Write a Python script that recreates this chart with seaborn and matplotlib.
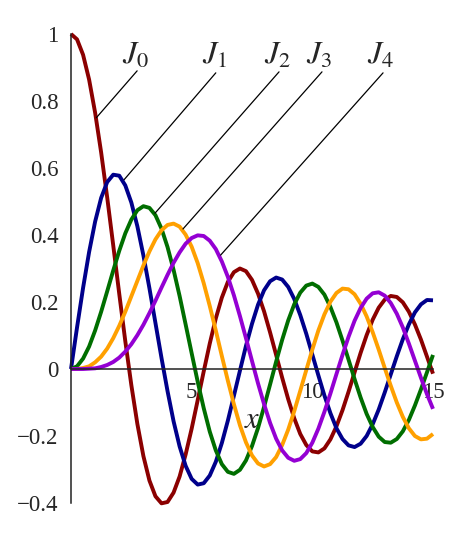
import pandas as pd
import numpy as np
import seaborn as sns
import matplotlib.pyplot as plt

# Bessel curves J0..J4, values every 0.25 in x
x_vals = [0, 0.25, 0.5, 0.75, 1, 1.25, 1.5, 1.75, 2, 2.25, 2.5, 2.75, 3, 3.25, 3.5, 3.75,
          4, 4.25, 4.5, 4.75, 5, 5.25, 5.5, 5.75, 6, 6.25, 6.5, 6.75, 7, 7.25, 7.5, 7.75,
          8, 8.25, 8.5, 8.75, 9, 9.25, 9.5, 9.75, 10, 10.25, 10.5, 10.75, 11, 11.25, 11.5, 11.75,
          12, 12.25, 12.5, 12.75, 13, 13.25, 13.5, 13.75, 14, 14.25, 14.5, 14.75, 15]

j0 = [1.000, 0.984, 0.938, 0.864, 0.765, 0.646, 0.512, 0.369, 0.224, 0.083, -0.048, -0.164,
      -0.260, -0.333, -0.380, -0.401, -0.397, -0.369, -0.321, -0.255, -0.178, -0.093, -0.007,
      0.076, 0.151, 0.213, 0.260, 0.289, 0.300, 0.292, 0.266, 0.225, 0.172, 0.109, 0.042,
      -0.026, -0.090, -0.147, -0.194, -0.227, -0.246, -0.249, -0.237, -0.210, -0.171, -0.123,
      -0.068, -0.010, 0.048, 0.101, 0.147, 0.183, 0.207, 0.218, 0.215, 0.199, 0.171, 0.133,
      0.088, 0.037, -0.014]
j1 = [0.000, 0.124, 0.242, 0.349, 0.440, 0.511, 0.558, 0.580, 0.577, 0.548, 0.497, 0.426,
      0.339, 0.241, 0.137, 0.033, -0.066, -0.156, -0.231, -0.289, -0.328, -0.345, -0.341,
      -0.318, -0.277, -0.221, -0.154, -0.080, -0.005, 0.069, 0.135, 0.192, 0.235, 0.262,
      0.273, 0.267, 0.245, 0.209, 0.161, 0.105, 0.043, -0.019, -0.079, -0.132, -0.177, -0.209,
      -0.228, -0.233, -0.223, -0.200, -0.165, -0.121, -0.070, -0.016, 0.038, 0.089, 0.133,
      0.169, 0.193, 0.206, 0.205]
j2 = [0.000, 0.008, 0.031, 0.067, 0.115, 0.171, 0.232, 0.294, 0.353, 0.405, 0.446, 0.474,
      0.486, 0.481, 0.459, 0.419, 0.364, 0.296, 0.218, 0.133, 0.047, -0.038, -0.117, -0.187,
      -0.243, -0.284, -0.307, -0.313, -0.301, -0.273, -0.230, -0.176, -0.113, -0.046, 0.022,
      0.087, 0.145, 0.193, 0.228, 0.249, 0.255, 0.245, 0.222, 0.185, 0.139, 0.085, 0.028,
      -0.030, -0.085, -0.134, -0.173, -0.202, -0.218, -0.220, -0.209, -0.186, -0.152, -0.109,
      -0.061, -0.010, 0.042]
j3 = [0.000, 0.000, 0.003, 0.008, 0.020, 0.037, 0.061, 0.092, 0.129, 0.171, 0.217, 0.263,
      0.309, 0.351, 0.387, 0.414, 0.430, 0.434, 0.425, 0.401, 0.365, 0.316, 0.256, 0.188,
      0.115, 0.039, -0.035, -0.105, -0.168, -0.219, -0.258, -0.282, -0.291, -0.284, -0.263,
      -0.227, -0.181, -0.126, -0.065, -0.003, 0.058, 0.115, 0.163, 0.201, 0.227, 0.240, 0.238,
      0.223, 0.195, 0.157, 0.110, 0.058, 0.003, -0.050, -0.100, -0.143, -0.177, -0.200, -0.210,
      -0.208, -0.194]
j4 = [0.000, 0.000, 0.000, 0.001, 0.002, 0.006, 0.012, 0.021, 0.034, 0.052, 0.074, 0.101,
      0.132, 0.167, 0.204, 0.243, 0.281, 0.317, 0.348, 0.374, 0.391, 0.399, 0.397, 0.383,
      0.358, 0.321, 0.275, 0.220, 0.158, 0.092, 0.024, -0.043, -0.105, -0.161, -0.208, -0.243,
      -0.265, -0.274, -0.269, -0.251, -0.220, -0.178, -0.128, -0.073, -0.015, 0.042, 0.096,
      0.144, 0.182, 0.210, 0.226, 0.229, 0.219, 0.197, 0.165, 0.124, 0.076, 0.025, -0.026,
      -0.075, -0.119]

names = ["J0", "J1", "J2", "J3", "J4"]
colors = ["#8B0000", "#00008B", "#006E00", "#FFA000", "#9400D3"]

# label text + leader lines (start near label, end on the curve)
label_tex = ["$J_0$", "$J_1$", "$J_2$", "$J_3$", "$J_4$"]
label_x = [2.1, 5.42, 8.0, 9.72, 12.27]
lead_start = [(2.74, 0.890), (6.0, 0.884), (8.62, 0.887), (10.4, 0.887), (12.93, 0.884)]
lead_end = [(1.05, 0.75), (2.2, 0.565), (3.48, 0.465), (4.64, 0.418), (6.2, 0.34)]

df = pd.concat([pd.DataFrame({"x": x_vals, "y": ys, "curve": n})
                for n, ys in zip(names, [j0, j1, j2, j3, j4])])

sns.set_style("white")
plt.rcParams["font.family"] = ["Liberation Serif", "DejaVu Serif"]
plt.rcParams["mathtext.fontset"] = "stix"

fig = plt.figure(figsize=(4.74, 5.46), dpi=100)
ax = fig.add_axes([71/474, 43/546, 362/474, 469/546])

sns.lineplot(data=df, x="x", y="y", hue="curve", palette=colors,
             linewidth=2.8, legend=False, ax=ax)
for ln in ax.get_lines():
    ln.set_clip_on(False)
    ln.set_solid_capstyle("butt")
    ln.set_solid_joinstyle("round")

# leader lines and labels
for t, lx, s, e in zip(label_tex, label_x, lead_start, lead_end):
    ax.plot([s[0], e[0]], [s[1], e[1]], color="black", lw=0.9, clip_on=False)
    ax.text(lx, 0.912, t, fontsize=23, ha="left", va="baseline")

ax.text(7.5, -0.155, "$x$", fontsize=22, ha="center", va="center")

ax.set_xlim(0, 15)
ax.set_ylim(-0.4, 1.0)
ax.spines["left"].set_position(("data", 0))
ax.spines["bottom"].set_position(("data", 0))
ax.spines["top"].set_visible(False)
ax.spines["right"].set_visible(False)
for sp in ["left", "bottom"]:
    ax.spines[sp].set_color("#222222")
    ax.spines[sp].set_linewidth(1.1)

yt = [-0.4, -0.2, 0, 0.2, 0.4, 0.6, 0.8, 1.0]
ax.set_yticks(yt)
ax.set_yticklabels(["\u22120.4", "\u22120.2", "0", "0.2", "0.4", "0.6", "0.8", "1"])
ax.set_yticks(np.arange(-0.3, 1.0, 0.2), minor=True)
ax.set_xticks([5, 10, 15])
ax.set_xticklabels(["5", "10", "15"])
ax.set_xticks(range(1, 15), minor=True)
ax.tick_params(axis="y", which="major", direction="out", length=4, width=0.8,
               color="#555555", labelsize=16.5, pad=5)
ax.tick_params(axis="y", which="minor", direction="out", length=2.5, width=0.6, color="#888888")
ax.tick_params(axis="x", which="major", direction="inout", length=4, width=0.8,
               color="#555555", labelsize=16.5, pad=7)
ax.tick_params(axis="x", which="minor", direction="inout", length=3, width=0.6, color="#999999")
ax.set_xlabel("")
ax.set_ylabel("")

fig.savefig("out.png", dpi=100)
